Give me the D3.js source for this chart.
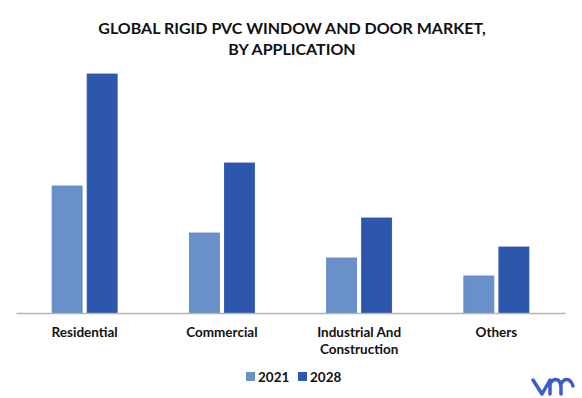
<!DOCTYPE html>
<html lang="en">
<head>
    <meta charset="UTF-8">
    <title>Global Rigid PVC Window and Door Market, by Application</title>
    <script src="https://d3js.org/d3.v7.min.js"></script>
    <style>
        body {
            margin: 0;
            padding: 0;
            background: #fff;
        }
        svg text {
            font-family: Lato, "Open Sans", Arial, sans-serif;
            font-weight: bold;
            fill: #111;
        }
        .title {
            font-size: 16px;
        }
        .cat {
            font-size: 13.5px;
        }
        .legend-label {
            font-size: 13.5px;
        }
    </style>
</head>
<body>
    <svg width="582" height="398"></svg>
    <script>
        // Data (no y axis, so units are relative)
        const categories = ["Residential", "Commercial", ["Industrial And", "Construction"], "Others"];
        const years = ["2021", "2028"];
        const values2021 = [12.7, 8.0, 5.5, 3.7];
        const values2028 = [23.9, 15.0, 9.5, 6.6];
        const colors = ["#6990c8", "#2d56ad"];

        const svg = d3.select("svg"),
            width = +svg.attr("width"),
            height = +svg.attr("height");

        const rows = categories.map((c, i) => ({
            key: i,
            label: c,
            vals: [values2021[i], values2028[i]]
        }));

        // Scales
        const x0 = d3.scaleBand()
            .domain(rows.map(d => d.key))
            .range([16, 565])
            .paddingInner(0.526)
            .paddingOuter(0.263);

        const x1 = d3.scaleBand()
            .domain(years)
            .range([0, x0.bandwidth()])
            .paddingInner(0.143);

        const y = d3.scaleLinear()
            .domain([0, 25])
            .range([313, 63]);

        // Title
        svg.append("text")
            .attr("class", "title")
            .attr("x", 292)
            .attr("y", 34)
            .attr("text-anchor", "middle")
            .text("GLOBAL RIGID PVC WINDOW AND DOOR MARKET,");
        svg.append("text")
            .attr("class", "title")
            .attr("x", 292)
            .attr("y", 55)
            .attr("text-anchor", "middle")
            .text("BY APPLICATION");

        // Bars
        const group = svg.append("g")
            .selectAll("g")
            .data(rows)
            .join("g")
            .attr("transform", d => `translate(${x0(d.key)},0)`);

        group.selectAll("rect")
            .data(d => d.vals.map((v, j) => ({ year: years[j], value: v, j: j })))
            .join("rect")
            .attr("x", d => x1(d.year))
            .attr("y", d => y(d.value))
            .attr("width", x1.bandwidth())
            .attr("height", d => y(0) - y(d.value))
            .attr("fill", d => colors[d.j])
            .attr("stroke", d => d.j === 0 ? "#5b86c4" : "#2a51a6")
            .attr("stroke-width", 0.8);

        // Baseline axis
        const xAxis = d3.axisBottom(x0).tickSize(0).tickFormat("");
        const axisG = svg.append("g")
            .attr("transform", `translate(0,${y(0)})`)
            .call(xAxis);
        axisG.select(".domain")
            .attr("stroke", "#b3b3b3")
            .attr("stroke-width", 1.5);

        // Category labels
        const catLabel = svg.append("g")
            .selectAll("text")
            .data(rows)
            .join("text")
            .attr("class", "cat")
            .attr("text-anchor", "middle")
            .attr("x", d => x0(d.key) + x0.bandwidth() / 2)
            .attr("y", 337);

        catLabel.selectAll("tspan")
            .data(d => Array.isArray(d.label) ? d.label : [d.label])
            .join("tspan")
            .attr("x", function () { return d3.select(this.parentNode).attr("x"); })
            .attr("dy", (d, i) => i === 0 ? 0 : 17)
            .text(d => d);

        // Legend
        const legend = svg.append("g")
            .attr("transform", "translate(246,372)");
        const legendItems = legend.selectAll("g")
            .data(years)
            .join("g")
            .attr("transform", (d, i) => `translate(${i * 52},0)`);
        legendItems.append("rect")
            .attr("width", 9)
            .attr("height", 9)
            .attr("fill", (d, i) => colors[i]);
        legendItems.append("text")
            .attr("class", "legend-label")
            .attr("x", 12)
            .attr("y", 9.5)
            .text(d => d);

        // Logo mark (bottom right)
        svg.append("path")
            .attr("d", "M533,380 L542,394 L550,380 M550,394 L550,384 Q553,378 558,380 Q561,382 561,388 L561,394 M561,384 Q564,378 569,380 Q572,382 573,386")
            .attr("fill", "none")
            .attr("stroke", "#3b5bd0")
            .attr("stroke-width", 3.5)
            .attr("stroke-linecap", "round")
            .attr("stroke-linejoin", "round");
    </script>
</body>
</html>
